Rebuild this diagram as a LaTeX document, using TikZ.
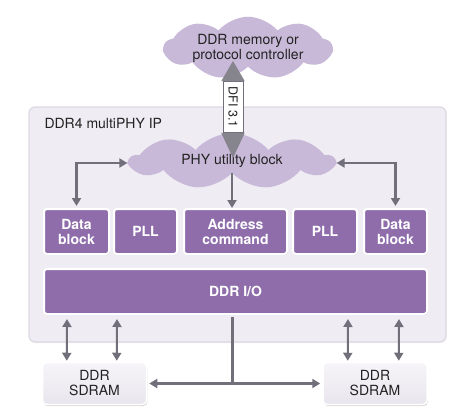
\documentclass[tikz,border=0pt]{standalone}
\usepackage{fontspec}
\setmainfont{TeX Gyre Heros}
\usetikzlibrary{arrows.meta,positioning,shapes.symbols,shadows,calc}
\definecolor{ipback}{HTML}{EFECF3}
\definecolor{ipedge}{HTML}{DDD8E3}
\definecolor{blockpurple}{HTML}{8E6DAA}
\definecolor{cloudlilac}{HTML}{C8B9D8}
\definecolor{wiregray}{HTML}{716F7A}
\definecolor{ramback}{HTML}{E9E5EE}
\definecolor{inktext}{HTML}{222222}

\tikzset{
  lbl/.style={font=\fontsize{14}{15}\selectfont, text=inktext, align=center},
  puff/.style={lbl, shape=cloud, cloud puffs=9, cloud puff arc=100, cloud ignores aspect,
    fill=cloudlilac, inner sep=0pt},
  ipblock/.style={rectangle, rounded corners=3pt, fill=blockpurple, draw=white, line width=2pt,
    text=white, font=\fontsize{14}{15}\selectfont\bfseries, align=center, inner sep=0pt,
    minimum height=45pt, drop shadow={opacity=0.25,shadow xshift=0.8pt,shadow yshift=-1.2pt}},
  rambox/.style={lbl, rectangle, rounded corners=4pt, top color=white!60!ramback, bottom color=ramback,
    draw=white, line width=1.5pt, inner sep=0pt, minimum width=104pt, minimum height=42pt,
    drop shadow={opacity=0.35,shadow xshift=0.8pt,shadow yshift=-1.5pt}},
  wire/.style={draw=wiregray, line width=2.1pt},
  tip/.style={-{Triangle[length=8pt,width=9pt]}},
  dbltip/.style={{Triangle[length=8pt,width=9pt]}-{Triangle[length=8pt,width=9pt]}},
}

\begin{document}
\begin{tikzpicture}[x=1pt,y=-1pt]
  \useasboundingbox (0,0) rectangle (474,420);
  % the IP frame
  \node (phyip) [rectangle, rounded corners=6pt, fill=ipback, draw=ipedge, line width=1.2pt,
      minimum width=417pt, minimum height=235pt,
      drop shadow={opacity=0.12,shadow xshift=0.6pt,shadow yshift=-1pt}] at (237.5,224.5) {};
  \node (iptitle) [lbl, anchor=west] at (41,124) {DDR4 multiPHY IP};

  % clouds
  \node (ctrl) [puff, minimum width=168pt, minimum height=58pt] at (248,48)
      {DDR memory or\\protocol controller};
  \node (phy) [puff, minimum width=204pt, minimum height=56pt] at (232,161) {PHY utility block};

  % DFI link between the clouds
  \coordinate (dfitop) at (233,61);
  \coordinate (dfibot) at (233,158);
  \node (dfi) [lbl, rotate=-90, fill=white, draw=wiregray, line width=0.6pt,
      font=\fontsize{12.5}{13}\selectfont, minimum width=51pt, minimum height=20pt, inner sep=0pt]
      at (233,107) {DFI 3.1};
  \fill[wiregray!85] ([xshift=-1.5pt]dfi.south west) -- (dfitop) -- ([xshift=1.5pt]dfi.north west) -- cycle;
  \fill[wiregray!85] ([xshift=-1.5pt]dfi.south east) -- (dfibot) -- ([xshift=1.5pt]dfi.north east) -- cycle;

  % PHY blocks
  \node (db1)   [ipblock, minimum width=65pt]  at (76.5,231.5)  {Data\\block};
  \node (pll1)  [ipblock, minimum width=63pt]  at (145.5,231.5) {PLL};
  \node (addr)  [ipblock, minimum width=103pt] at (235.5,231.5) {Address\\command};
  \node (pll2)  [ipblock, minimum width=64pt]  at (325,231.5)   {PLL};
  \node (db2)   [ipblock, minimum width=63pt]  at (395.5,231.5) {Data\\block};
  \node (io)    [ipblock, minimum width=383pt] at (235.5,291.5) {DDR I/O};

  % memories
  \node (ram1) [rambox] at (94.5,383.5) {DDR\\SDRAM};
  \node (ram2) [rambox] at (375,383.5)  {DDR\\SDRAM};

  % links
  \draw[wire,dbltip] ([yshift=-2pt]phy.west) -| ([yshift=2pt]db1.north);
  \draw[wire,dbltip] ([yshift=-2pt]phy.east) -| ([yshift=2pt]db2.north);
  \draw[wire,tip] (phy.south) -- (phy.south |- addr.north);
  \draw[wire,dbltip] ([xshift=24pt,yshift=-4pt]io.south west) -- ([xshift=25pt,yshift=1pt]ram1.north west);
  \draw[wire,dbltip] ([xshift=74pt,yshift=-4pt]io.south west) -- ([xshift=75pt,yshift=1pt]ram1.north west);
  \draw[wire,dbltip] ([xshift=-80pt,yshift=-4pt]io.south east) -- ([xshift=-80pt,yshift=1pt]ram2.north east);
  \draw[wire,dbltip] ([xshift=-29pt,yshift=-4pt]io.south east) -- ([xshift=-29pt,yshift=1pt]ram2.north east);
  \draw[wire,tip] ([xshift=-3pt,yshift=-2pt]io.south) |- ([xshift=2pt]ram1.east);
  \draw[wire,tip] ([xshift=-3pt,yshift=-2pt]io.south) |- ([xshift=-2pt]ram2.west);
\end{tikzpicture}
\end{document}
